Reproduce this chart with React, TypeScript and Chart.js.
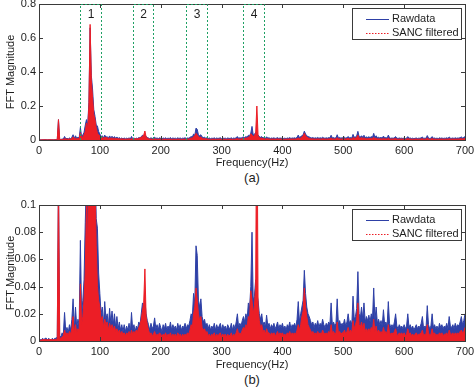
import React, { useEffect, useRef } from "react";
import { Chart, registerables } from "chart.js";

Chart.register(...registerables);

// ---------------- data ----------------
const FREQ_STEP_HZ = 2; // spectrum bins: 0, 2, 4 ... 700 Hz

// Raw data FFT magnitude (one value per 2 Hz bin, rows of 20 Hz)
const RAW_DATA = [
  0, .001, .001, .002, .001, .002, .002, .001, .002, .001,
  .001, .002, .001, .002, .002, .003, .12, .004, .003, .006,
  .005, .021, .007, .01, .006, .012, .008, .016, .031, .009,
  .025, .01, .016, .012, .074, .02, .03, .045, .087, .12,
  .09, .22, .66, .38, .3, .18, .14, .09, .083, .05,
  .035, .02, .025, .012, .029, .016, .02, .011, .024, .013,
  .022, .012, .02, .01, .018, .009, .014, .008, .012, .007,
  .012, .007, .011, .008, .013, .006, .021, .008, .012, .007,
  .011, .009, .014, .012, .02, .028, .025, .03, .02, .015,
  .012, .008, .013, .009, .011, .017, .009, .012, .008, .013,
  .01, .007, .012, .009, .013, .008, .011, .009, .014, .008,
  .012, .009, .011, .008, .013, .009, .012, .008, .011, .01,
  .013, .009, .012, .011, .015, .02, .018, .035, .028, .07,
  .063, .03, .025, .031, .018, .014, .016, .011, .013, .009,
  .012, .008, .011, .009, .013, .008, .012, .009, .011, .013,
  .008, .012, .009, .011, .008, .012, .01, .009, .013, .008,
  .012, .009, .014, .02, .01, .013, .011, .015, .018, .014,
  .02, .016, .028, .024, .04, .08, .03, .033, .045, .035,
  .03, .02, .016, .02, .012, .014, .01, .019, .011, .013,
  .009, .012, .01, .013, .009, .011, .014, .009, .012, .01,
  .013, .009, .011, .008, .012, .01, .014, .009, .012, .011,
  .013, .01, .016, .029, .014, .02, .025, .03, .052, .035,
  .025, .02, .018, .015, .012, .014, .01, .013, .011, .015,
  .01, .013, .011, .016, .012, .01, .013, .011, .014, .012,
  .028, .012, .014, .011, .013, .031, .012, .015, .011, .013,
  .012, .016, .011, .014, .02, .013, .015, .012, .033, .016,
  .018, .024, .051, .02, .017, .025, .016, .028, .014, .018,
  .015, .019, .014, .02, .016, .039, .015, .025, .013, .016,
  .012, .015, .011, .023, .012, .014, .011, .029, .013, .01,
  .012, .01, .014, .02, .011, .009, .012, .01, .011, .009,
  .012, .009, .011, .02, .01, .012, .009, .011, .008, .01,
  .012, .009, .011, .01, .013, .018, .009, .011, .01, .026,
  .012, .009, .011, .02, .01, .012, .009, .011, .008, .013,
  .01, .012, .009, .011, .01, .013, .009, .018, .011, .01,
  .012, .009, .013, .01, .012, .011, .014, .018, .012, .015,
  .02,
];

// SANC filtered FFT magnitude (same bins)
const SANC_FILTERED = [
  0, 0, .001, .001, .001, .001, .001, .001, .001, .001,
  .001, .001, .001, .001, .001, .002, .12, .002, .002, .003,
  .004, .008, .005, .006, .004, .007, .005, .009, .018, .006,
  .012, .006, .009, .008, .042, .012, .018, .03, .05, .1,
  .065, .2, .68, .35, .25, .15, .12, .07, .04, .03,
  .025, .015, .018, .01, .016, .012, .014, .008, .013, .009,
  .012, .008, .011, .007, .009, .006, .008, .005, .007, .005,
  .006, .004, .006, .005, .007, .004, .008, .005, .007, .006,
  .008, .007, .01, .012, .016, .022, .028, .053, .018, .012,
  .008, .005, .006, .004, .005, .007, .004, .005, .004, .006,
  .005, .003, .005, .004, .006, .003, .005, .004, .006, .003,
  .005, .004, .005, .003, .006, .004, .005, .003, .005, .004,
  .005, .004, .006, .005, .008, .012, .01, .02, .025, .039,
  .03, .02, .015, .018, .01, .008, .009, .006, .007, .004,
  .005, .003, .005, .004, .006, .003, .005, .004, .005, .006,
  .003, .005, .004, .005, .003, .005, .004, .004, .006, .003,
  .005, .004, .006, .009, .005, .006, .005, .008, .01, .009,
  .012, .01, .018, .015, .037, .03, .02, .026, .04, .2,
  .025, .015, .01, .012, .007, .008, .005, .009, .006, .006,
  .004, .006, .005, .006, .004, .005, .007, .004, .006, .005,
  .006, .004, .005, .004, .006, .005, .007, .004, .006, .005,
  .006, .005, .008, .012, .008, .012, .018, .022, .039, .025,
  .018, .012, .01, .008, .006, .007, .005, .006, .005, .007,
  .005, .006, .005, .008, .006, .005, .006, .005, .007, .006,
  .012, .006, .007, .005, .006, .014, .006, .007, .005, .006,
  .006, .008, .005, .007, .01, .006, .008, .006, .015, .009,
  .012, .015, .028, .012, .01, .014, .009, .013, .007, .009,
  .007, .009, .007, .01, .008, .016, .007, .011, .006, .008,
  .006, .007, .005, .01, .006, .007, .005, .012, .006, .005,
  .006, .005, .007, .009, .005, .004, .006, .005, .006, .004,
  .006, .004, .005, .009, .005, .006, .004, .005, .004, .005,
  .006, .004, .005, .005, .006, .008, .004, .005, .005, .012,
  .006, .004, .005, .009, .005, .006, .004, .005, .004, .006,
  .005, .006, .004, .005, .005, .006, .004, .008, .005, .005,
  .006, .004, .006, .005, .006, .005, .007, .008, .006, .007,
  .01,
];

const SERIES_NAMES = ["Rawdata", "SANC filtered"];
const X_TICKS = [0, 100, 200, 300, 400, 500, 600, 700];
const X_LABELS = ["0", "100", "200", "300", "400", "500", "600", "700"];
const Y_TICKS_A = [0, 0.2, 0.4, 0.6, 0.8];
const Y_LABELS_A = ["0", "0.2", "0.4", "0.6", "0.8"];
const Y_TICKS_B = [0, 0.02, 0.04, 0.06, 0.08, 0.1];
const Y_LABELS_B = ["0", "0.02", "0.04", "0.06", "0.08", "0.1"];
const BANDS_HZ = [
  [67, 102],
  [155, 188],
  [242, 276],
  [335, 370],
];
const BAND_LABELS = ["1", "2", "3", "4"];
const X_TITLE = "Frequency(Hz)";
const Y_TITLE = "FFT Magnitude";
const PANEL_LABELS = ["(a)", "(b)"];

// ---------------- styles ----------------
const FONT = "'Liberation Sans', Arial, Helvetica, sans-serif";
const TEXT = "#1e1e1e";
const AXIS = "#3a3a3a";
const BLUE = "rgb(46,64,166)";
const RED = "rgb(236,30,38)";
const GREEN = "rgb(30,160,100)";

function buildPoints(values: number[]) {
  return values.map((v, i) => ({ x: i * FREQ_STEP_HZ, y: v }));
}

function decorPlugin(yTicks: number[], showBands: boolean) {
  return {
    id: "panelDecor",
    afterDatasetsDraw(chart: any) {
      const { ctx, chartArea: a } = chart;
      const xs = chart.scales.x;
      const ys = chart.scales.y;
      const L = Math.round(a.left);
      const R = Math.round(a.right);
      const T = Math.round(a.top);
      const B = Math.round(a.bottom);
      ctx.save();
      ctx.lineWidth = 1;
      ctx.setLineDash([]);
      ctx.strokeStyle = AXIS;
      ctx.strokeRect(L + 0.5, T + 0.5, R - L, B - T);
      ctx.beginPath();
      for (const v of X_TICKS) {
        const px = Math.round(xs.getPixelForValue(v)) + 0.5;
        ctx.moveTo(px, B);
        ctx.lineTo(px, B - 4);
        ctx.moveTo(px, T);
        ctx.lineTo(px, T + 4);
      }
      for (const v of yTicks) {
        const py = Math.round(ys.getPixelForValue(v)) + 0.5;
        ctx.moveTo(L, py);
        ctx.lineTo(L + 4, py);
        ctx.moveTo(R, py);
        ctx.lineTo(R - 4, py);
      }
      ctx.stroke();

      if (showBands) {
        ctx.font = `12px ${FONT}`;
        ctx.textAlign = "center";
        ctx.textBaseline = "middle";
        BANDS_HZ.forEach((b, i) => {
          const x1 = Math.round(xs.getPixelForValue(b[0])) + 0.5;
          const x2 = Math.round(xs.getPixelForValue(b[1])) + 0.5;
          ctx.strokeStyle = GREEN;
          ctx.setLineDash([2, 2]);
          ctx.beginPath();
          ctx.moveTo(x1, B);
          ctx.lineTo(x1, T + 0.5);
          ctx.lineTo(x2, T + 0.5);
          ctx.lineTo(x2, B);
          ctx.stroke();
          ctx.setLineDash([]);
          ctx.fillStyle = TEXT;
          ctx.fillText(BAND_LABELS[i], (x1 + x2) / 2, T + 11);
        });
      }

      // legend
      const bw = 109;
      const bh = 31;
      const bx = R - 4 - bw;
      const by = T + 4;
      ctx.setLineDash([]);
      ctx.fillStyle = "#ffffff";
      ctx.fillRect(bx, by, bw, bh);
      ctx.strokeStyle = AXIS;
      ctx.strokeRect(bx + 0.5, by + 0.5, bw, bh);
      const rows = [
        { name: SERIES_NAMES[0], color: BLUE, dash: [] as number[], y: by + 11 },
        { name: SERIES_NAMES[1], color: RED, dash: [1.5, 1.5], y: by + 25 },
      ];
      ctx.font = `11px ${FONT}`;
      ctx.textAlign = "left";
      ctx.textBaseline = "middle";
      for (const r of rows) {
        ctx.strokeStyle = r.color;
        ctx.setLineDash(r.dash);
        ctx.beginPath();
        ctx.moveTo(bx + 14, Math.round(r.y) + 0.5);
        ctx.lineTo(bx + 37, Math.round(r.y) + 0.5);
        ctx.stroke();
        ctx.setLineDash([]);
        ctx.fillStyle = TEXT;
        ctx.fillText(r.name, bx + 40, r.y);
      }
      ctx.restore();
    },
  };
}

function makeConfig(panel: "a" | "b"): any {
  const isA = panel === "a";
  const yTicks = isA ? Y_TICKS_A : Y_TICKS_B;
  const yLabels = isA ? Y_LABELS_A : Y_LABELS_B;
  const yMax = yTicks[yTicks.length - 1];
  const xAxisH = isA ? 30 : 31;
  const tickFont = { family: FONT, size: 11 };
  return {
    type: "line",
    data: {
      datasets: [
        {
          label: SERIES_NAMES[1],
          data: buildPoints(SANC_FILTERED),
          borderColor: RED,
          backgroundColor: RED,
          borderWidth: 1,
          pointRadius: 0,
          fill: "origin",
          tension: 0,
        },
        {
          label: SERIES_NAMES[0],
          data: buildPoints(RAW_DATA),
          borderColor: BLUE,
          backgroundColor: BLUE,
          borderWidth: 1,
          pointRadius: 0,
          fill: "origin",
          tension: 0,
        },
      ],
    },
    options: {
      animation: false,
      responsive: false,
      devicePixelRatio: 1,
      events: [],
      layout: { padding: { left: 0, right: 9, top: isA ? 4 : 10, bottom: 0 } },
      plugins: {
        legend: { display: false },
        tooltip: { enabled: false },
        title: { display: false },
      },
      scales: {
        x: {
          type: "linear",
          min: 0,
          max: 700,
          grid: { display: false, drawTicks: false, tickLength: 0 },
          border: { display: false },
          afterBuildTicks: (s: any) => {
            s.ticks = X_TICKS.map((v) => ({ value: v }));
          },
          ticks: {
            font: tickFont,
            color: TEXT,
            padding: 4,
            maxRotation: 0,
            autoSkip: false,
            callback: (_v: any, i: number) => X_LABELS[i],
          },
          title: {
            display: true,
            text: X_TITLE,
            font: tickFont,
            color: TEXT,
            padding: { top: 0, bottom: 0 },
          },
          afterFit: (s: any) => {
            s.height = xAxisH;
            s.paddingLeft = 0;
            s.paddingRight = 0;
          },
        },
        y: {
          type: "linear",
          min: 0,
          max: yMax,
          grid: { display: false, drawTicks: false, tickLength: 0 },
          border: { display: false },
          afterBuildTicks: (s: any) => {
            s.ticks = yTicks.map((v) => ({ value: v }));
          },
          ticks: {
            font: tickFont,
            color: TEXT,
            padding: 3,
            autoSkip: false,
            callback: (_v: any, i: number) => yLabels[i],
          },
          title: {
            display: true,
            text: Y_TITLE,
            font: tickFont,
            color: TEXT,
            padding: { top: 4, bottom: 0 },
          },
          afterFit: (s: any) => {
            s.width = 39;
            s.paddingTop = 0;
            s.paddingBottom = 0;
          },
        },
      },
    },
    plugins: [decorPlugin(yTicks, isA)],
  };
}

export default function App() {
  const aRef = useRef<HTMLCanvasElement>(null);
  const bRef = useRef<HTMLCanvasElement>(null);

  useEffect(() => {
    const c1 = new Chart(aRef.current as HTMLCanvasElement, makeConfig("a"));
    const c2 = new Chart(bRef.current as HTMLCanvasElement, makeConfig("b"));
    return () => {
      c1.destroy();
      c2.destroy();
    };
  }, []);

  const labelStyle: React.CSSProperties = {
    position: "absolute",
    left: 202,
    width: 100,
    height: 16,
    lineHeight: "16px",
    textAlign: "center",
    fontFamily: FONT,
    fontSize: 13,
    color: TEXT,
  };

  return (
    <div
      style={{
        position: "absolute",
        left: 0,
        top: 0,
        width: 474,
        height: 387,
        background: "#ffffff",
        overflow: "hidden",
      }}
    >
      <canvas
        ref={aRef}
        width={474}
        height={170}
        style={{ position: "absolute", left: 0, top: 0, width: 474, height: 170 }}
      />
      <div style={{ ...labelStyle, top: 170 }}>{PANEL_LABELS[0]}</div>
      <canvas
        ref={bRef}
        width={474}
        height={177}
        style={{ position: "absolute", left: 0, top: 195, width: 474, height: 177 }}
      />
      <div style={{ ...labelStyle, top: 372 }}>{PANEL_LABELS[1]}</div>
    </div>
  );
}
